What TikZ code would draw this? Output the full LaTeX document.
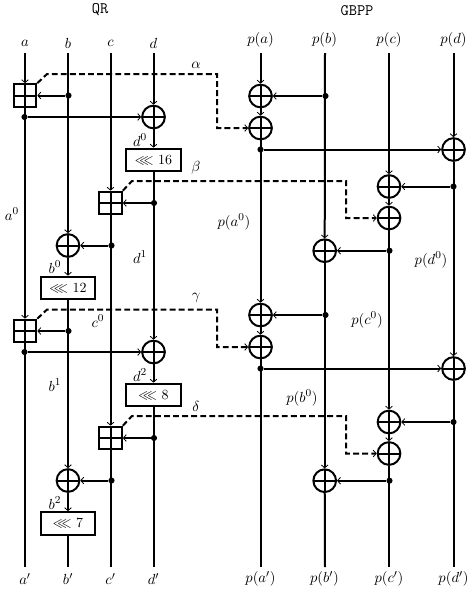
\documentclass[tikz,border=0pt]{standalone}
\usepackage{amssymb}
\usetikzlibrary{arrows.meta}
\tikzset{
 x=0.75pt,y=-0.75pt,
 wire/.style={line width=1.5pt},
 arr/.style={line width=1.5pt,-{Straight Barb[length=2.2pt,width=5pt,line width=0.6pt]}},
 dsh/.style={line width=1.5pt,dash pattern=on 4.4pt off 2.4pt,-{Straight Barb[length=2.2pt,width=5pt,line width=0.6pt]}},
 xorn/.style={circle,draw,line width=1.5pt,minimum size=17pt,inner sep=0pt,path picture={\draw[line width=1.5pt] (path picture bounding box.north)--(path picture bounding box.south) (path picture bounding box.west)--(path picture bounding box.east);}},
 addn/.style={rectangle,draw,line width=1.5pt,minimum size=17pt,inner sep=0pt,path picture={\draw[line width=1.5pt] (path picture bounding box.north)--(path picture bounding box.south) (path picture bounding box.west)--(path picture bounding box.east);}},
 rot/.style={rectangle,draw,line width=1.5pt,minimum width=41pt,minimum height=17pt,inner sep=0pt,fill=white,font=\fontsize{10.5}{13}\selectfont},
 dotn/.style={circle,fill=black,inner sep=0pt,minimum size=4.6pt},
 lab/.style={font=\fontsize{10.8}{12}\selectfont,inner sep=0pt},
 ttl/.style={font=\fontsize{12}{14}\ttfamily,inner sep=0pt},
}
\begin{document}
\begin{tikzpicture}
\useasboundingbox (0,0) rectangle (474,593);
% titles
\node[ttl] (tqr) at (100,10) {QR};
\node[ttl] (tgb) at (357,11) {GBPP};
% top labels
\foreach \n/\x/\t in {a/25/a,b/68/b,c/110.5/c,d/153.5/d}{\node[lab] (t\n) at (\x,43) {$\t$};\node[lab] (e\n) at (\x,579) {$\t'$};}
\node[lab] (tpa) at (260.5,40) {$p(a)$};\node[lab] (tpb) at (324.5,40) {$p(b)$};\node[lab] (tpc) at (389,40) {$p(c)$};\node[lab] (tpd) at (453.5,40) {$p(d)$};
\node[lab] (epa) at (260.5,579) {$p(a')$};\node[lab] (epb) at (324.5,579) {$p(b')$};\node[lab] (epc) at (389,579) {$p(c')$};\node[lab] (epd) at (453.5,579) {$p(d')$};
% coordinates for wires
\foreach \n/\x in {a/25,b/68,c/110.5,d/153.5,pa/260.5,pb/325,pc/389,pd/453.5}{
 \coordinate (s\n) at (\x,53);\coordinate (f\n) at (\x,567);}
% QR nodes
\node[addn] (A1) at (25,95.5) {};
\node[xorn] (X1) at (153.5,117) {};
\node[rot] (R1) at (153.5,160) {$\lll$ 16};
\node[addn] (C1) at (110.5,203) {};
\node[xorn] (X2) at (68,245.5) {};
\node[rot] (R2) at (68,288) {$\lll$ 12};
\node[addn] (A2) at (25,331) {};
\node[xorn] (X3) at (153.5,352) {};
\node[rot] (R3) at (153.5,395) {$\lll$ 8};
\node[addn] (C2) at (110.5,438) {};
\node[xorn] (X4) at (68,480.5) {};
\node[rot] (R4) at (68,523.5) {$\lll$ 7};
% dots
\node[dotn] (D1) at (68.5,95.5) {};
\node[dotn] (D2) at (24.5,117) {};
\node[dotn] (D3) at (154,203) {};
\node[dotn] (D4) at (111.5,245.5) {};
\node[dotn] (D5) at (68.5,331) {};
\node[dotn] (D6) at (24.5,352) {};
\node[dotn] (D7) at (154,438) {};
\node[dotn] (D8) at (111.5,480.5) {};
% wires QR
\draw[arr] (sa) -- (A1);
\draw[arr] (A1) -- (A2);
\draw[wire] (A2) -- (fa);
\draw[arr] (sb) -- (X2);
\draw[arr] (X2) -- (R2);
\draw[arr] (R2) -- (X4);
\draw[arr] (X4) -- (R4);
\draw[wire] (R4) -- (fb);
\draw[arr] (sc) -- (C1);
\draw[arr] (C1) -- (C2);
\draw[wire] (C2) -- (fc);
\draw[arr] (sd) -- (X1);
\draw[arr] (X1) -- (R1);
\draw[arr] (R1) -- (X3);
\draw[arr] (X3) -- (R3);
\draw[wire] (R3) -- (fd);
\draw[arr] (D1) -- (A1);
\draw[arr] (D2) -- (X1);
\draw[arr] (D3) -- (C1);
\draw[arr] (D4) -- (X2);
\draw[arr] (D5) -- (A2);
\draw[arr] (D6) -- (X3);
\draw[arr] (D7) -- (C2);
\draw[arr] (D8) -- (X4);
% GBPP nodes
\node[xorn] (P1) at (260.5,96) {};
\node[xorn] (P2) at (260.5,128) {};
\node[xorn] (P3) at (453.5,149.5) {};
\node[xorn] (P4) at (389,186.5) {};
\node[xorn] (P5) at (389,218) {};
\node[xorn] (P6) at (324.7,250.7) {};
\node[xorn] (P7) at (260.5,315) {};
\node[xorn] (P8) at (260.5,347) {};
\node[xorn] (P9) at (453.5,368.5) {};
\node[xorn] (P10) at (389,422) {};
\node[xorn] (P11) at (389,453.5) {};
\node[xorn] (P12) at (324.7,480.7) {};
\node[dotn] (Q1) at (325.5,96) {};
\node[dotn] (Q2) at (260.5,149.5) {};
\node[dotn] (Q3) at (453.5,186.5) {};
\node[dotn] (Q4) at (389.5,250.7) {};
\node[dotn] (Q5) at (325.5,315) {};
\node[dotn] (Q6) at (260.5,368.5) {};
\node[dotn] (Q7) at (453.5,422) {};
\node[dotn] (Q8) at (389.5,480.7) {};
\draw[arr] (spa) -- (P1);
\draw[arr] (P1) -- (P2);
\draw[arr] (P2) -- (P7);
\draw[arr] (P7) -- (P8);
\draw[wire] (P8) -- (fpa);
\draw[arr] (spb) -- (P6);
\draw[arr] (P6) -- (P12);
\draw[wire] (P12) -- (fpb);
\draw[arr] (spc) -- (P4);
\draw[arr] (P4) -- (P5);
\draw[arr] (P5) -- (P10);
\draw[arr] (P10) -- (P11);
\draw[wire] (P11) -- (fpc);
\draw[arr] (spd) -- (P3);
\draw[arr] (P3) -- (P9);
\draw[wire] (P9) -- (fpd);
\draw[arr] (Q1) -- (P1);
\draw[arr] (Q2) -- (P3);
\draw[arr] (Q3) -- (P4);
\draw[arr] (Q4) -- (P6);
\draw[arr] (Q5) -- (P7);
\draw[arr] (Q6) -- (P9);
\draw[arr] (Q7) -- (P10);
\draw[arr] (Q8) -- (P12);
% dashed
\draw[dsh] (A1.north east) -- (47,74) -- (217,74) -- (217,128) -- (P2);
\draw[dsh] (C1.north east) -- (132,181) -- (346,181) -- (346,218) -- (P5);
\draw[dsh] (A2.north east) -- (47,309.5) -- (217,309.5) -- (217,347) -- (P8);
\draw[dsh] (C2.north east) -- (132,416) -- (346,416) -- (346,453.5) -- (P11);
% labels
\node[lab] (l1) at (196,65) {$\alpha$};
\node[lab] (l2) at (196,168) {$\beta$};
\node[lab] (l3) at (196,298) {$\gamma$};
\node[lab] (l4) at (196,406) {$\delta$};
\node[lab] (l5) at (12,214) {$a^0$};
\node[lab] (l6) at (140,140) {$d^0$};
\node[lab] (l7) at (55,267) {$b^0$};
\node[lab] (l8) at (140,257) {$d^1$};
\node[lab] (l9) at (98,321) {$c^0$};
\node[lab] (l10) at (55,385) {$b^1$};
\node[lab] (l11) at (140,375) {$d^2$};
\node[lab] (l12) at (55,503) {$b^2$};
\node[lab] (l13) at (234,222) {$p(a^0)$};
\node[lab] (l14) at (431,260) {$p(d^0)$};
\node[lab] (l15) at (367,320) {$p(c^0)$};
\node[lab] (l16) at (302,398) {$p(b^0)$};
\end{tikzpicture}
\end{document}
